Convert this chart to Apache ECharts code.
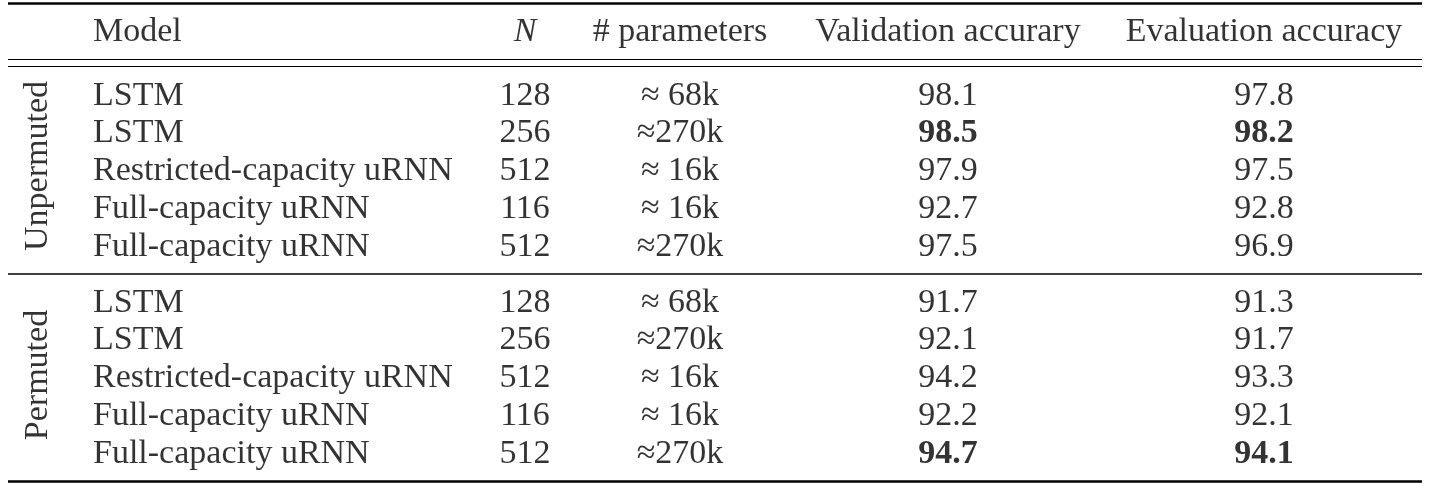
<!DOCTYPE html>
<html><head><meta charset="utf-8">
<script src="https://cdn.jsdelivr.net/npm/echarts@6/dist/echarts.min.js"></script>
<style>html,body{margin:0;padding:0;background:#fff}#c{width:1429px;height:484px}</style>
</head><body><div id="c"></div>
<script>
const headers = ['Model', 'N', '# parameters', 'Validation accurary', 'Evaluation accuracy'];
const groups = ['Unpermuted', 'Permuted'];
const models = ['LSTM','LSTM','Restricted-capacity uRNN','Full-capacity uRNN','Full-capacity uRNN',
                'LSTM','LSTM','Restricted-capacity uRNN','Full-capacity uRNN','Full-capacity uRNN'];
const nVals = [128,256,512,116,512,128,256,512,116,512];
const params = ['≈ 68k','≈270k','≈ 16k','≈ 16k','≈270k','≈ 68k','≈270k','≈ 16k','≈ 16k','≈270k'];
const valAcc = [98.1,98.5,97.9,92.7,97.5,91.7,92.1,94.2,92.2,94.7];
const evalAcc = [97.8,98.2,97.5,92.8,96.9,91.3,91.7,93.3,92.1,94.1];
const boldVal = [1,9];
const boldEval = [1,9];

// layout (pixel positions)
const colX = [93, 525, 680, 948, 1264];
const colAlign = ['left','center','center','center','center'];
const headerY = 32;
const rowY = [96,133,171,209,247,303,340,378,416,454];
const groupX = 38, groupY = [166, 375];
const FONT = 'Liberation Serif';
const FS = 34;

const series = [];
function textSeries(data, x, align, boldIdx) {
  series.push({
    type: 'scatter', symbolSize: 0, silent: true,
    data: data.map((t, i) => ({
      value: [x, rowY[i]],
      label: {
        show: true, position: 'inside', formatter: String(typeof t === 'number' ? t.toFixed(1) : t),
        align: align, verticalAlign: 'middle', fontFamily: FONT, fontSize: FS, color: '#000',
        fontWeight: boldIdx && boldIdx.includes(i) ? 'bold' : 'normal'
      }
    }))
  });
}
textSeries(models, colX[0], 'left');
textSeries(nVals.map(String), colX[1], 'center');
textSeries(params, colX[2], 'center');
textSeries(valAcc, colX[3], 'center', boldVal);
textSeries(evalAcc, colX[4], 'center', boldEval);
series.push({
  type: 'scatter', symbolSize: 0, silent: true,
  data: headers.map((h, i) => ({
    value: [colX[i], headerY],
    label: { show: true, position: 'inside', formatter: h, align: colAlign[i], verticalAlign: 'middle',
      fontFamily: FONT, fontSize: FS, color: '#000', fontStyle: i === 1 ? 'italic' : 'normal' }
  }))
});
series.push({
  type: 'scatter', symbolSize: 0, silent: true,
  data: groups.map((g, i) => ({
    value: [groupX, groupY[i]],
    label: { show: true, position: 'inside', formatter: g, rotate: 90, align: 'center', verticalAlign: 'middle',
      fontFamily: FONT, fontSize: FS, color: '#000' }
  }))
});
const x0 = 8, x1 = 1422;
const rules = [[3, 2.5], [59, 1.2], [66, 1.2], [274, 1.5], [481, 2.5]];
series.push({
  type: 'lines', coordinateSystem: 'cartesian2d', silent: true,
  data: rules.map(r => ({ coords: [[x0, r[0]], [x1, r[0]]], lineStyle: { width: r[1], color: '#000', opacity: 1 } }))
});

const chart = echarts.init(document.getElementById('c'));
chart.setOption({
  animation: false,
  grid: { left: 0, right: 0, top: 0, bottom: 0 },
  xAxis: { type: 'value', min: 0, max: 1429, show: false },
  yAxis: { type: 'value', min: 0, max: 484, inverse: true, show: false },
  series: series
});
</script></body></html>
